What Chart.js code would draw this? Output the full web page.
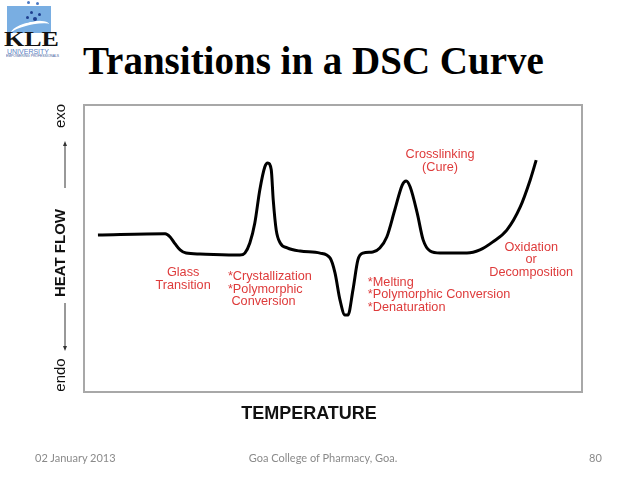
<!doctype html>
<html lang="en">
<head>
<meta charset="utf-8">
<title>Transitions in a DSC Curve</title>
<script src="https://cdn.jsdelivr.net/npm/chart.js@4.4.1/dist/chart.umd.min.js"></script>
<style>
  html, body { margin: 0; padding: 0; background: #fff; }
  #slide { position: relative; width: 638px; height: 479px; overflow: hidden; }
  #slide canvas { position: absolute; left: 0; top: 0; }
  .abs { position: absolute; white-space: nowrap; }
  #title { left: 83px; top: 41px; font: bold 39px/1 "Liberation Serif", "Times New Roman", serif; color: #000; }
  .foot { top: 451px; font: 11px Lato, "Open Sans", sans-serif; color: #8a8a8a; }
</style>
</head>
<body>
<div id="slide">
  <!-- logo -->
  <div class="abs" style="left:7px;top:6px;width:44px;height:27px;background:#79aee2"></div>
  <div class="abs" style="left:10px;top:22px;width:40px;height:12px;border-top:3px solid #fff;border-radius:60% 40% 0 0;transform:rotate(-10deg)"></div>
  <div class="abs" style="left:27px;top:1px;width:3px;height:3px;background:#4b79c4;border-radius:2px"></div>
  <div class="abs" style="left:36px;top:2px;width:3px;height:3px;background:#4b79c4;border-radius:2px"></div>
  <div class="abs" style="left:30px;top:11px;width:3px;height:3px;background:#1f3f8f;border-radius:2px"></div>
  <div class="abs" style="left:38px;top:13px;width:3px;height:3px;background:#1f3f8f;border-radius:2px"></div>
  <div class="abs" style="left:33px;top:17px;width:4px;height:4px;background:#1f3f8f;border-radius:2px"></div>
  <div class="abs" style="left:26px;top:16px;width:3px;height:3px;background:#1f3f8f;border-radius:2px"></div>
  <div class="abs" style="left:4px;top:28px;font:bold 20px 'Liberation Serif',serif;color:#111;transform:scaleX(1.3);transform-origin:0 0">KLE</div>
  <div class="abs" style="left:7px;top:48px;font:7px 'Liberation Sans',Arial,sans-serif;color:#5a7fc4">UNIVERSITY</div>
  <div class="abs" style="left:6px;top:54px;font:8px 'Liberation Sans',Arial,sans-serif;color:#3a5a9a;transform:scale(0.42,0.45);transform-origin:0 0">EMPOWERING PROFESSIONALS</div>

  <div id="title" class="abs">Transitions in a DSC Curve</div>

  <canvas id="dsc" width="638" height="479"></canvas>

  <div class="abs foot" style="left:35px">02 January 2013</div>
  <div class="abs foot" style="left:323px;transform:translateX(-50%)">Goa College of Pharmacy, Goa.</div>
  <div class="abs foot" style="left:589px">80</div>
</div>
<script>
// curve: temperature (0-100, arbitrary) vs heat flow (0-100, exo up)
const temperature = [2.8, 16.3, 17.3, 18.3, 19.3, 20.5, 23.3, 31.3, 32.3, 33.3, 34.3, 35.3, 36.3, 36.9, 37.6,
  38.0, 38.6, 39.4, 40.8, 43.4, 47.4, 49.4, 50.4, 51.4, 52.4, 53.0, 54.0, 55.0, 56.0, 58.0, 59.4, 60.8,
  62.4, 63.9, 64.7, 65.5, 66.9, 68.1, 69.5, 71.5, 76.9, 79.5, 82.1, 84.9, 87.6, 89.6, 90.8];
const heatFlow = [54.7, 55.1, 54.0, 51.6, 49.5, 48.4, 48.1, 47.7, 48.4, 51.9, 58.9, 70.4, 78.4, 79.8, 77.4,
  66.9, 56.4, 51.9, 50.2, 49.1, 48.4, 46.7, 41.5, 32.1, 26.8, 26.8, 35.5, 46.0, 48.4, 48.8, 50.2, 54.0,
  63.4, 72.1, 73.5, 71.4, 62.4, 53.0, 49.1, 48.4, 48.4, 49.5, 52.3, 56.4, 64.5, 73.9, 80.8];

// transition labels, anchored in data units
const labelText = [
  ['Glass', 'Transition'],
  ['*Crystallization', '*Polymorphic', ' Conversion'],
  ['Crosslinking', '(Cure)'],
  ['*Melting', '*Polymorphic Conversion', '*Denaturation'],
  ['Oxidation', 'or', 'Decomposition']
];
const labelX = [19.9, 28.9, 71.5, 57.0, 89.8];
const labelY = [41.5, 40.1, 82.6, 38.3, 50.5];
const labelAlign = ['center', 'left', 'center', 'left', 'center'];

const points = temperature.map((t, i) => ({ x: t, y: heatFlow[i] }));

const slideText = {
  id: 'slideText',
  beforeDatasetsDraw(chart) {
    const ctx = chart.ctx, a = chart.chartArea;
    ctx.save();
    ctx.strokeStyle = '#a8a8a8';
    ctx.lineWidth = 2;
    ctx.strokeRect(a.left, a.top, a.right - a.left, a.bottom - a.top);
    ctx.restore();
  },
  afterDraw(chart) {
    const ctx = chart.ctx, xs = chart.scales.x, ys = chart.scales.y;
    ctx.save();
    // red annotations
    ctx.fillStyle = '#de3b3b';
    ctx.font = '12.7px "Liberation Sans", Arial, sans-serif';
    ctx.textBaseline = 'middle';
    labelText.forEach((lines, i) => {
      ctx.textAlign = labelAlign[i];
      const px = xs.getPixelForValue(labelX[i]);
      const py = ys.getPixelForValue(labelY[i]);
      lines.forEach((s, j) => ctx.fillText(s, px, py + j * 12.5));
    });

    // x title
    ctx.fillStyle = '#111';
    ctx.textAlign = 'center';
    ctx.font = 'bold 18px "Liberation Sans", Arial, sans-serif';
    ctx.fillText('TEMPERATURE', 309, 414);

    // y title: endo <--- HEAT FLOW ---> exo
    ctx.translate(61, 0);
    ctx.rotate(-Math.PI / 2);
    ctx.font = '15px "Liberation Sans", Arial, sans-serif';
    ctx.textAlign = 'center';
    ctx.fillText('exo', -116, 0);
    ctx.fillText('endo', -375, 0);
    ctx.font = 'bold 15px "Liberation Sans", Arial, sans-serif';
    ctx.fillText('HEAT FLOW', -253, 0);
    ctx.strokeStyle = '#333';
    ctx.fillStyle = '#333';
    ctx.lineWidth = 1;
    ctx.beginPath();
    ctx.moveTo(-188, 4); ctx.lineTo(-144, 4);
    ctx.moveTo(-303, 4); ctx.lineTo(-348, 4);
    ctx.stroke();
    ctx.beginPath();
    ctx.moveTo(-141, 4); ctx.lineTo(-146, 2); ctx.lineTo(-146, 6); ctx.closePath();
    ctx.moveTo(-351, 4); ctx.lineTo(-346, 2); ctx.lineTo(-346, 6); ctx.closePath();
    ctx.fill();
    ctx.restore();
  }
};

new Chart(document.getElementById('dsc'), {
  type: 'scatter',
  data: {
    datasets: [{
      label: 'DSC',
      data: points,
      showLine: true,
      borderColor: '#000',
      borderWidth: 3,
      pointRadius: 0,
      cubicInterpolationMode: 'monotone'
    }]
  },
  options: {
    responsive: false,
    animation: false,
    devicePixelRatio: 1,
    layout: { padding: { left: 84, top: 105, right: 56, bottom: 87 } },
    plugins: { legend: { display: false }, tooltip: { enabled: false } },
    scales: {
      x: { type: 'linear', min: 0, max: 100, display: false },
      y: { type: 'linear', min: 0, max: 100, display: false }
    }
  },
  plugins: [slideText]
});
</script>
</body>
</html>
